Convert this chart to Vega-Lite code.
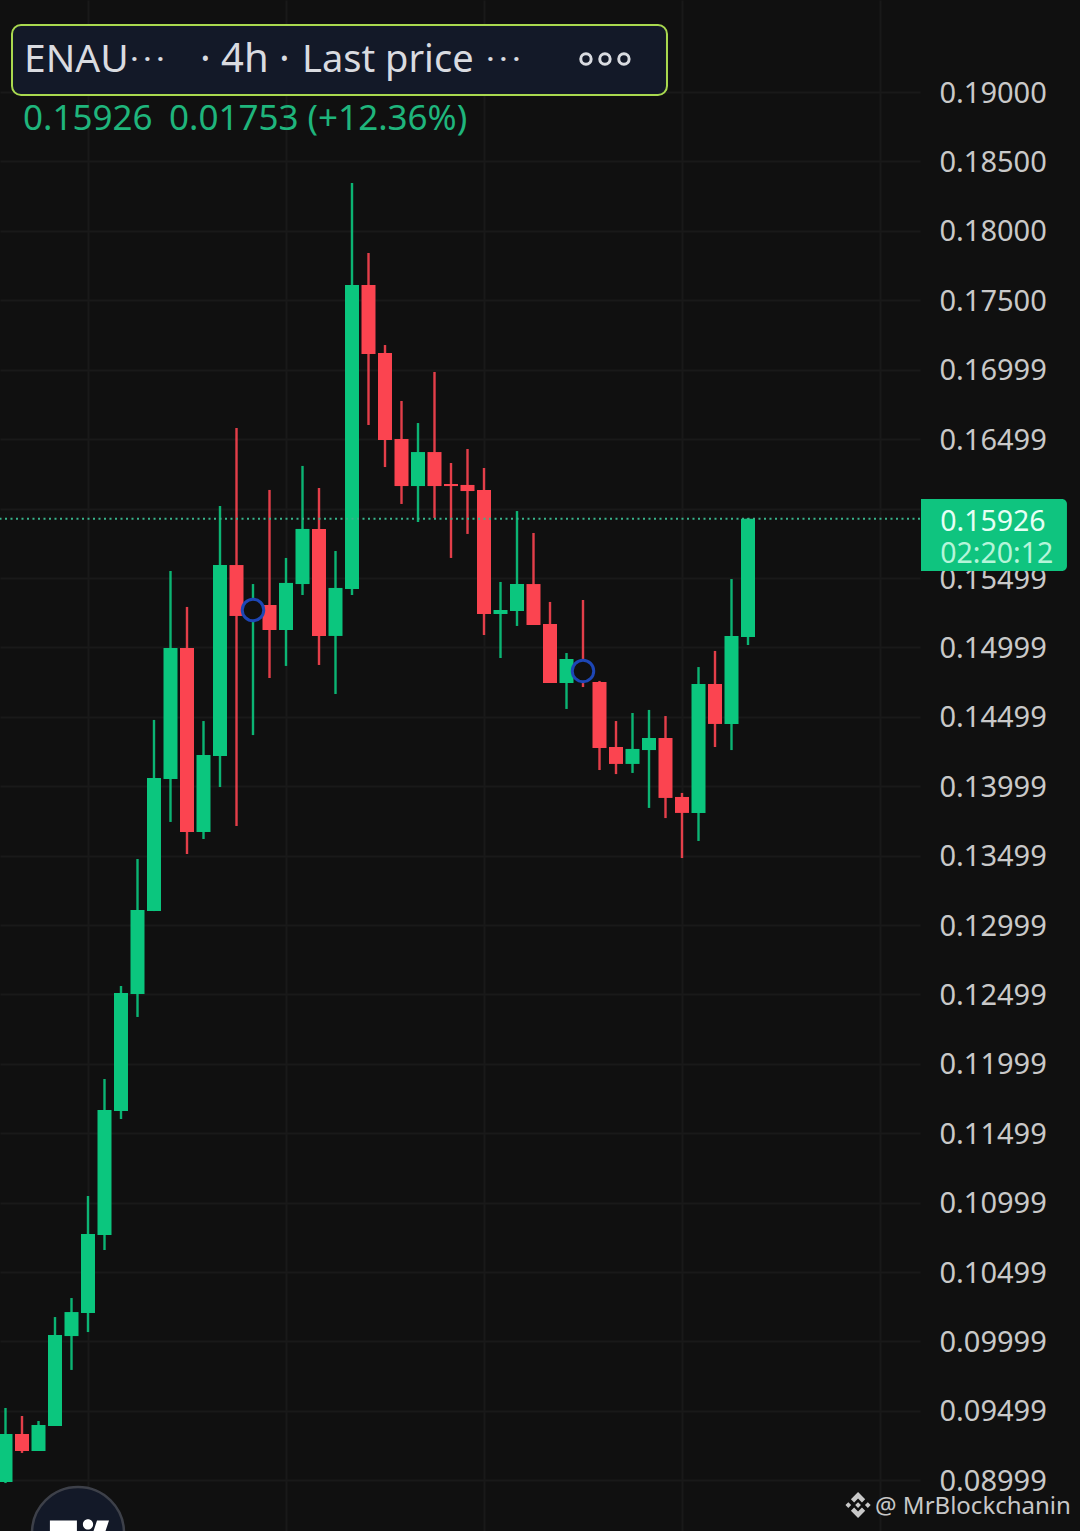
{
  "$schema": "https://vega.github.io/schema/vega-lite/v6.json",
  "description": "ENAU 4h candlestick chart, last price 0.15926",
  "width": 920,
  "height": 1531,
  "autosize": "none",
  "padding": {"left": 0, "top": 0, "right": 160, "bottom": 0},
  "background": "#101010",
  "config": {
    "view": {"stroke": null},
    "axis": {"title": null},
    "text": {"font": "Noto Sans", "align": "left", "baseline": "alphabetic"}
  },
  "datasets": {
    "one": [{"n": 1}],
    "candles": [
      {"i":0,"open":0.08986,"high":0.09519,"low":0.08978,"close":0.09331,"side":"up"},
      {"i":1,"open":0.09331,"high":0.09461,"low":0.09195,"close":0.09209,"side":"down"},
      {"i":2,"open":0.09209,"high":0.09425,"low":0.09209,"close":0.09396,"side":"up"},
      {"i":3,"open":0.09389,"high":0.10174,"low":0.09389,"close":0.10045,"side":"up"},
      {"i":4,"open":0.10037,"high":0.10311,"low":0.09793,"close":0.10210,"side":"up"},
      {"i":5,"open":0.10203,"high":0.11046,"low":0.10066,"close":0.10772,"side":"up"},
      {"i":6,"open":0.10765,"high":0.11889,"low":0.10657,"close":0.11666,"side":"up"},
      {"i":7,"open":0.11659,"high":0.12559,"low":0.11601,"close":0.12509,"side":"up"},
      {"i":8,"open":0.12501,"high":0.13474,"low":0.12336,"close":0.13107,"side":"up"},
      {"i":9,"open":0.13099,"high":0.14476,"low":0.13099,"close":0.14058,"side":"up"},
      {"i":10,"open":0.14050,"high":0.15549,"low":0.13741,"close":0.14994,"side":"up"},
      {"i":11,"open":0.14994,"high":0.15290,"low":0.13510,"close":0.13669,"side":"down"},
      {"i":12,"open":0.13669,"high":0.14468,"low":0.13618,"close":0.14223,"side":"up"},
      {"i":13,"open":0.14216,"high":0.16017,"low":0.13993,"close":0.15592,"side":"up"},
      {"i":14,"open":0.15592,"high":0.16579,"low":0.13712,"close":0.15225,"side":"down"},
      {"i":15,"open":0.15254,"high":0.15455,"low":0.14367,"close":0.15282,"side":"up"},
      {"i":16,"open":0.15304,"high":0.16133,"low":0.14778,"close":0.15124,"side":"down"},
      {"i":17,"open":0.15124,"high":0.15643,"low":0.14865,"close":0.15463,"side":"up"},
      {"i":18,"open":0.15455,"high":0.16306,"low":0.15376,"close":0.15852,"side":"up"},
      {"i":19,"open":0.15852,"high":0.16147,"low":0.14872,"close":0.15081,"side":"down"},
      {"i":20,"open":0.15081,"high":0.15693,"low":0.14663,"close":0.15427,"side":"up"},
      {"i":21,"open":0.15419,"high":0.18344,"low":0.15376,"close":0.17610,"side":"up"},
      {"i":22,"open":0.17610,"high":0.17840,"low":0.16601,"close":0.17112,"side":"down"},
      {"i":23,"open":0.17120,"high":0.17177,"low":0.16298,"close":0.16493,"side":"down"},
      {"i":24,"open":0.16500,"high":0.16774,"low":0.16032,"close":0.16161,"side":"down"},
      {"i":25,"open":0.16161,"high":0.16615,"low":0.15902,"close":0.16406,"side":"up"},
      {"i":26,"open":0.16406,"high":0.16983,"low":0.15931,"close":0.16161,"side":"down"},
      {"i":27,"open":0.16176,"high":0.16327,"low":0.15643,"close":0.16161,"side":"down"},
      {"i":28,"open":0.16169,"high":0.16428,"low":0.15816,"close":0.16125,"side":"down"},
      {"i":29,"open":0.16133,"high":0.16291,"low":0.15088,"close":0.15239,"side":"down"},
      {"i":30,"open":0.15239,"high":0.15470,"low":0.14922,"close":0.15268,"side":"up"},
      {"i":31,"open":0.15261,"high":0.15981,"low":0.15153,"close":0.15455,"side":"up"},
      {"i":32,"open":0.15455,"high":0.15823,"low":0.15160,"close":0.15160,"side":"down"},
      {"i":33,"open":0.15167,"high":0.15326,"low":0.14742,"close":0.14742,"side":"down"},
      {"i":34,"open":0.14742,"high":0.14958,"low":0.14555,"close":0.14915,"side":"up"},
      {"i":35,"open":0.14893,"high":0.15340,"low":0.14713,"close":0.14764,"side":"down"},
      {"i":36,"open":0.14749,"high":0.14757,"low":0.14115,"close":0.14274,"side":"down"},
      {"i":37,"open":0.14281,"high":0.14468,"low":0.14086,"close":0.14159,"side":"down"},
      {"i":38,"open":0.14159,"high":0.14526,"low":0.14094,"close":0.14267,"side":"up"},
      {"i":39,"open":0.14259,"high":0.14548,"low":0.13842,"close":0.14346,"side":"up"},
      {"i":40,"open":0.14346,"high":0.14504,"low":0.13769,"close":0.13914,"side":"down"},
      {"i":41,"open":0.13921,"high":0.13950,"low":0.13481,"close":0.13806,"side":"down"},
      {"i":42,"open":0.13806,"high":0.14857,"low":0.13604,"close":0.14735,"side":"up"},
      {"i":43,"open":0.14735,"high":0.14973,"low":0.14281,"close":0.14447,"side":"down"},
      {"i":44,"open":0.14447,"high":0.15491,"low":0.14259,"close":0.15081,"side":"up"},
      {"i":45,"open":0.15074,"high":0.15931,"low":0.15016,"close":0.15926,"side":"up"}
    ],
    "markers": [
      {"i":15,"price":0.15268},
      {"i":35,"price":0.14829}
    ]
  },
  "layer": [
    {
      "data": {"name": "candles"},
      "mark": {"type": "rule", "strokeWidth": 2.4, "opacity": 0.9},
      "encoding": {
        "x": {
          "field": "i", "type": "quantitative",
          "scale": {"domain": [-0.3333, 55.4242], "nice": false, "zero": false, "padding": 0},
          "axis": {"values": [5, 17, 29, 41, 53], "labels": false, "ticks": false, "domain": false, "grid": true, "gridColor": "#191919", "gridWidth": 2, "title": null}
        },
        "y": {
          "field": "low", "type": "quantitative",
          "scale": {"domain": [0.086326, 0.196628], "nice": false, "zero": false},
          "axis": {
            "orient": "right",
            "values": [0.19, 0.185, 0.18, 0.175, 0.16999, 0.16499, 0.15999, 0.15499, 0.14999, 0.14499, 0.13999, 0.13499, 0.12999, 0.12499, 0.11999, 0.11499, 0.10999, 0.10499, 0.09999, 0.09499, 0.08999],
            "labelExpr": "datum.value == 0.15999 ? '' : format(datum.value, '.5f')",
            "domain": false, "ticks": false, "grid": true, "gridColor": "#191919", "gridWidth": 2,
            "labelPadding": 19, "labelOffset": 1.2, "labelFont": "Noto Sans", "labelFontSize": 29, "labelColor": "#c9c9c9",
            "labelOverlap": false, "labelBound": false, "labelFlush": false, "title": null
          }
        },
        "y2": {"field": "high"},
        "color": {"field": "side", "type": "nominal", "scale": {"domain": ["up", "down"], "range": ["#0bc67e", "#fb4450"]}, "legend": null}
      }
    },
    {
      "data": {"name": "candles"},
      "mark": {"type": "bar", "width": 14, "orient": "vertical"},
      "encoding": {
        "x": {"field": "i", "type": "quantitative"},
        "y": {"field": "open", "type": "quantitative"},
        "y2": {"field": "close"},
        "color": {"field": "side", "type": "nominal", "legend": null}
      }
    },
    {
      "data": {"name": "one"},
      "mark": {"type": "rule", "stroke": "#38b48b", "strokeWidth": 2, "strokeDash": [2, 3.5]},
      "encoding": {"y": {"datum": 0.15926}}
    },
    {
      "data": {"name": "markers"},
      "mark": {"type": "point", "shape": "circle", "size": 462, "filled": false, "fill": "#101010", "fillOpacity": 1, "stroke": "#1d46b5", "strokeWidth": 3, "opacity": 1},
      "encoding": {
        "x": {"field": "i", "type": "quantitative"},
        "y": {"field": "price", "type": "quantitative"}
      }
    },
    {
      "data": {"name": "one"},
      "mark": {"type": "rect", "fill": "#131928", "stroke": "#a9d94f", "strokeWidth": 2, "cornerRadius": 9},
      "encoding": {
        "x": {"datum": 0.394}, "x2": {"datum": 40.09},
        "y": {"datum": 0.194827}, "y2": {"datum": 0.189784}
      }
    },
    {
      "data": {"name": "one"},
      "mark": {"type": "text", "text": "ENAU", "fontSize": 39, "fill": "#d9dbe0"},
      "encoding": {"x": {"datum": 1.121}, "y": {"datum": 0.191441}}
    },
    {
      "data": {"name": "one"},
      "mark": {"type": "text", "text": "· · ·", "fontSize": 24, "fontWeight": "bold", "fill": "#d9dbe0"},
      "encoding": {"x": {"datum": 7.606}, "y": {"datum": 0.191801}}
    },
    {
      "data": {"name": "one"},
      "mark": {"type": "text", "text": "· 4h ·", "fontSize": 40, "fill": "#d9dbe0"},
      "encoding": {"x": {"datum": 11.788}, "y": {"datum": 0.191441}}
    },
    {
      "data": {"name": "one"},
      "mark": {"type": "text", "text": "Last price", "fontSize": 38, "fill": "#d9dbe0"},
      "encoding": {"x": {"datum": 17.97}, "y": {"datum": 0.191441}}
    },
    {
      "data": {"name": "one"},
      "mark": {"type": "text", "text": "· · ·", "fontSize": 24, "fontWeight": "bold", "fill": "#d9dbe0"},
      "encoding": {"x": {"datum": 29.18}, "y": {"datum": 0.191801}}
    },
    {
      "data": {"name": "one"},
      "mark": {"type": "point", "size": 2704, "filled": false, "stroke": "#d9dbe0", "strokeWidth": 3, "opacity": 1, "shape": "M-0.93,0a0.2,0.2 0 1,0 0.4,0a0.2,0.2 0 1,0 -0.4,0ZM-0.2,0a0.2,0.2 0 1,0 0.4,0a0.2,0.2 0 1,0 -0.4,0ZM0.53,0a0.2,0.2 0 1,0 0.4,0a0.2,0.2 0 1,0 -0.4,0Z"},
      "encoding": {"x": {"datum": 36.33}, "y": {"datum": 0.192377}}
    },
    {
      "data": {"name": "one"},
      "mark": {"type": "text", "text": "0.15926", "fontSize": 35, "fill": "#1fb57c"},
      "encoding": {"x": {"datum": 1.061}, "y": {"datum": 0.187262}}
    },
    {
      "data": {"name": "one"},
      "mark": {"type": "text", "text": "0.01753 (+12.36%)", "fontSize": 35, "fill": "#1fb57c"},
      "encoding": {"x": {"datum": 9.909}, "y": {"datum": 0.187262}}
    },
    {
      "data": {"name": "one"},
      "mark": {"type": "rect", "fill": "#0fc47f", "cornerRadiusTopRight": 5, "cornerRadiusBottomRight": 5},
      "encoding": {
        "x": {"datum": 55.485}, "x2": {"datum": 64.33},
        "y": {"datum": 0.160677}, "y2": {"datum": 0.15549}
      }
    },
    {
      "data": {"name": "one"},
      "mark": {"type": "text", "text": "0.15926", "fontSize": 28.5, "baseline": "middle", "fill": "#e6fff4"},
      "encoding": {"x": {"datum": 56.65}, "y": {"datum": 0.15902}}
    },
    {
      "data": {"name": "one"},
      "mark": {"type": "text", "text": "02:20:12", "fontSize": 28.5, "baseline": "middle", "fill": "#b5f5d9"},
      "encoding": {"x": {"datum": 56.65}, "y": {"datum": 0.156715}}
    },
    {
      "data": {"name": "one"},
      "mark": {"type": "point", "size": 8464, "shape": "circle", "filled": true, "fill": "#131928", "stroke": "#3d4049", "strokeWidth": 2.5, "fillOpacity": 1, "opacity": 1},
      "encoding": {"x": {"datum": 4.394}, "y": {"datum": 0.086181}}
    },
    {
      "data": {"name": "one"},
      "mark": {"type": "point", "size": 3600, "filled": true, "fill": "#ffffff", "strokeWidth": 0, "fillOpacity": 1, "opacity": 1, "shape": "M-0.97,-0.5H-0.07V1H-0.5V-0.1H-0.97ZM0.13,-0.37a0.17,0.17 0 1,0 0.34,0a0.17,0.17 0 1,0 -0.34,0ZM0.6,-0.5H1L0.5,1H0.1Z"},
      "encoding": {"x": {"datum": 4.455}, "y": {"datum": 0.086}}
    },
    {
      "data": {"name": "one"},
      "mark": {"type": "point", "size": 676, "filled": true, "fill": "#c8c8c8", "strokeWidth": 0, "fillOpacity": 1, "opacity": 1, "shape": "M0,-1L0.55,-0.45L0.3,-0.2L0,-0.5L-0.3,-0.2L-0.55,-0.45ZM0,1L0.55,0.45L0.3,0.2L0,0.5L-0.3,0.2L-0.55,0.45ZM0,-0.22L0.22,0L0,0.22L-0.22,0ZM-0.75,-0.22L-0.53,0L-0.75,0.22L-0.97,0ZM0.75,-0.22L0.97,0L0.75,0.22L0.53,0Z"},
      "encoding": {"x": {"datum": 51.67}, "y": {"datum": 0.088198}}
    },
    {
      "data": {"name": "one"},
      "mark": {"type": "text", "text": "@ MrBlockchanin", "fontSize": 24, "fill": "#c8c8c8"},
      "encoding": {"x": {"datum": 52.7}, "y": {"datum": 0.08755}}
    }
  ]
}
